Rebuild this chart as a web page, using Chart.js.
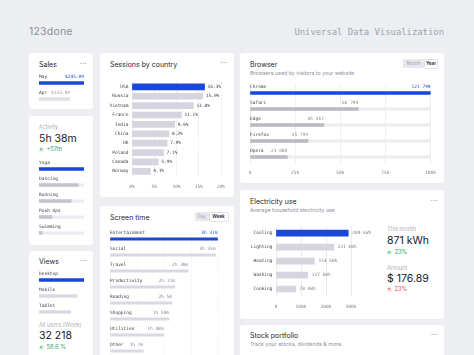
<!DOCTYPE html>
<html><head><meta charset="utf-8">
<script src="https://cdn.jsdelivr.net/npm/chart.js@4"></script>
<style>
html,body{margin:0;padding:0;}
body{width:474px;height:355px;overflow:hidden;background:#edeef2;position:relative;font-family:Inter,'Noto Sans',sans-serif;}
.card{position:absolute;background:#fff;border-radius:3px;}
.t{position:absolute;white-space:nowrap;line-height:1;transform:translateY(-50%);}
canvas{position:absolute;}
</style></head><body>
<script>
// ---- data ----
const salesMonths = ['May', 'Apr'];
const salesValues = [245.09, 133.89];
const activityNames = ['Yoga', 'Dancing', 'Running', 'Push Ups', 'Swimming'];
const activityMinutes = [115, 100, 82, 33, 8];
const viewDevices = ['Desktop', 'Mobile', 'Tablet'];
const viewCounts = [12595, 10743, 8880];
const countries = ['USA', 'Russia', 'Vietnam', 'France', 'India', 'China', 'UK', 'Poland', 'Canada', 'Norway'];
const countryShare = [16.3, 15.9, 13.8, 11.1, 9.6, 8.3, 7.9, 7.1, 5.9, 4.1];
const sessionTickLabels = ['0%', '5%', '10%', '15%', '20%'];
const browsers = ['Chrome', 'Safari', 'Edge', 'Firefox', 'Opera'];
const browserVisitors = [121799, 66799, 45567, 35799, 23000];
const browserTickLabels = ['0', '25k', '50k', '75k', '100k'];
const screenApps = ['Entertainment', 'Social', 'Travel', 'Productivity', 'Reading', 'Shopping', 'Utilities', 'Other'];
const screenMinutes = [217, 213, 158, 131, 125, 119, 108, 67];
const electricityUses = ['Cooling', 'Lighting', 'Heating', 'Washing', 'Cooking'];
const electricityKwh = [289, 231, 154, 127, 78];
const electricityTickLabels = ['0', '100k', '200k', '300k'];

// ---- helpers ----
const MONO = "'DejaVu Sans Mono', 'Liberation Mono', monospace";
const BLUE = '#1a48d8';

function card(x, y, w, h) {
  const d = document.createElement('div');
  d.className = 'card';
  d.style.cssText = `left:${x}px;top:${y}px;width:${w}px;height:${h}px;`;
  document.body.appendChild(d);
}
function txt(x, y, s, style, right) {
  const d = document.createElement('div');
  d.className = 't';
  d.textContent = s;
  d.style.cssText = `left:${x}px;top:${y}px;` + (style || '') + (right ? 'transform:translate(-100%,-50%);' : '');
  document.body.appendChild(d);
}
function title(x, y, s) { txt(x, y, s, 'font-size:7px;font-weight:400;color:#1d1f27;'); }
function sub(x, y, s) { txt(x, y, s, 'font-size:5.3px;color:#8d8f9b;'); }
function small(x, y, s) { txt(x, y, s, 'font-size:5.6px;font-weight:300;color:#8d8f9b;'); }
function big(x, y, s) { txt(x, y, s, 'font-size:10.5px;color:#15171f;'); }
function dots(x, y) { txt(x, y, '···', 'font-size:7px;color:#7d7f8a;letter-spacing:0.4px;'); }
function delta(x, y, s, color, bg, up) {
  const ic = document.createElement('div');
  ic.style.cssText = `position:absolute;left:${x}px;top:${y - 2.5}px;width:5px;height:5px;border-radius:50%;background:${bg};`;
  const tri = document.createElement('div');
  tri.style.cssText = `position:absolute;left:1.2px;top:${up ? 1.3 : 1.7}px;width:0;height:0;border-left:1.3px solid transparent;border-right:1.3px solid transparent;${up ? 'border-bottom' : 'border-top'}:2px solid ${color};`;
  ic.appendChild(tri);
  document.body.appendChild(ic);
  txt(x + 7.5, y, s, `font-size:5.8px;color:${color};`);
}
function toggle(x, y, w1, w2, h, a, b) {
  const o = document.createElement('div');
  o.style.cssText = `position:absolute;left:${x}px;top:${y}px;width:${w1 + w2}px;height:${h}px;background:#e7e8ed;border-radius:1.5px;font-size:4.6px;`;
  const l = document.createElement('div');
  l.textContent = a;
  l.style.cssText = `position:absolute;left:0;top:0;width:${w1}px;height:${h}px;line-height:${h}px;text-align:center;color:#a0a2ae;`;
  const r = document.createElement('div');
  r.textContent = b;
  r.style.cssText = `position:absolute;left:${w1}px;top:0;width:${w2 - 1}px;height:${h - 1}px;line-height:${h - 1}px;text-align:center;color:#22242c;font-weight:600;background:#fff;border:0.5px solid #e0e1e7;border-radius:1.5px;`;
  o.appendChild(l); o.appendChild(r);
  document.body.appendChild(o);
}

function rowsPlugin(o) {
  return {
    id: 'rows',
    beforeDatasetsDraw(chart) {
      if (!o.track) return;
      const ctx = chart.ctx, ca = chart.chartArea;
      const meta = chart.getDatasetMeta(0);
      ctx.save();
      ctx.fillStyle = o.track;
      meta.data.forEach(b => ctx.fillRect(ca.left, b.y - b.height / 2, ca.right - ca.left, b.height));
      ctx.restore();
    },
    afterDatasetsDraw(chart) {
      const ctx = chart.ctx, ca = chart.chartArea;
      const meta = chart.getDatasetMeta(0);
      ctx.save();
      ctx.font = `${o.size || 4.5}px ${MONO}`;
      ctx.textBaseline = 'middle';
      meta.data.forEach((b, i) => {
        if (o.names) {
          ctx.textAlign = 'left';
          ctx.fillStyle = o.nameColor || '#3a3c45';
          ctx.fillText(chart.data.labels[i], ca.left, b.y - o.dy);
        }
        if (o.values) {
          ctx.fillStyle = (i === 0 && o.firstColor) ? o.firstColor : (o.valueColor || '#80828d');
          if (o.mode === 'end') {
            ctx.textAlign = 'right';
            ctx.fillText(o.values[i], Math.min(b.x, ca.right), b.y - o.dy);
          } else {
            ctx.textAlign = 'left';
            ctx.fillText(o.values[i], b.x + (o.gap || 3), b.y);
          }
        }
      });
      ctx.restore();
    }
  };
}

function build(spec) {
  const area = spec.area, m = spec.m;
  const W = Math.round(area.w + m.l + m.r), H = Math.round(area.h + m.t + m.b);
  const cv = document.createElement('canvas');
  cv.width = W; cv.height = H;
  cv.style.left = (area.x - m.l) + 'px';
  cv.style.top = (area.y - m.t) + 'px';
  cv.style.width = W + 'px';
  cv.style.height = H + 'px';
  document.body.appendChild(cv);
  const yw = spec.yLabels ? m.l : 0;
  const xh = spec.xTicks ? m.b : 0;
  const xTicks = {
    display: !!spec.xTicks, includeBounds: false, padding: spec.xPad || 6,
    color: '#7a7c87', font: { family: MONO, size: 4.5 }, maxRotation: 0, minRotation: 0, autoSkip: false
  };
  if (spec.step) xTicks.stepSize = spec.step;
  if (spec.count) xTicks.count = spec.count;
  if (spec.tickLabels) { const tl = spec.tickLabels; xTicks.callback = (v, i) => tl[i]; }
  const scales = {
    y: {
      type: 'category', display: !!spec.yLabels,
      grid: { display: false, drawTicks: false }, border: { display: false },
      ticks: { autoSkip: false, padding: spec.yPad || 3, color: '#3a3c45', font: { family: MONO, size: 4.5 } },
      afterFit: s => { s.width = yw; }
    },
    x: {
      type: 'linear', min: 0, max: spec.max, display: !!(spec.xTicks || spec.grid),
      grid: { display: !!spec.grid, drawTicks: false, color: spec.gridColor || '#e6e7ec', lineWidth: 1 },
      border: { display: false, dash: spec.gridDash || [] },
      ticks: xTicks,
      afterFit: s => { s.height = xh; }
    }
  };
  return new Chart(cv, {
    type: 'bar',
    data: {
      labels: spec.labels,
      datasets: [{
        data: spec.data, backgroundColor: spec.colors, barThickness: spec.thickness,
        borderWidth: 0, borderRadius: 0, clip: 0
      }]
    },
    options: {
      indexAxis: 'y', responsive: false, animation: false, devicePixelRatio: 1, events: [],
      layout: { padding: { left: m.l - yw, top: m.t, right: m.r, bottom: m.b - xh } },
      plugins: { legend: { display: false }, tooltip: { enabled: false } },
      scales
    },
    plugins: spec.rows ? [rowsPlugin(spec.rows)] : []
  });
}
const fmtNum = n => String(n).replace(/\B(?=(\d{3})+(?!\d))/g, ' ');
const fmtHM = m => `${Math.floor(m / 60)}h ${m % 60}m`;
const colorsFirst = (n, c) => Array.from({ length: n }, (_, i) => i === 0 ? BLUE : c);

// ---- header ----
txt(29, 32, '123done', 'font-size:10.5px;color:#8b8e9b;letter-spacing:0.2px;');
txt(444, 32, 'Universal Data Visualization', `font-family:${MONO};font-size:8.9px;color:#a0a2ae;`, true);

// ---- cards ----
card(29, 53, 64, 56);
card(29, 116, 64, 129);
card(29, 251, 64, 110);
card(100, 53, 134, 144);
card(100, 206, 134, 160);
card(240, 53, 204, 130);
card(240, 190, 204, 129);
card(240, 325, 204, 40);

// Sales
title(39, 64, 'Sales'); dots(80, 62.5);
build({
  area: { x: 39, y: 75, w: 45, h: 32 }, m: { l: 2, t: 10, r: 2, b: 2 },
  labels: salesMonths, data: salesValues, colors: [BLUE, '#dfe0e6'], thickness: 3, max: 194,
  rows: { names: true, dy: 6, values: salesValues.map(v => '$' + v.toFixed(2)), mode: 'end', firstColor: BLUE, valueColor: '#9a9ca6' }
});

// Activity
small(39, 128, 'Activity');
big(39, 139, '5h 38m');
delta(39, 149, '+57m', '#34a55f', '#d6f1df', true);
build({
  area: { x: 39, y: 161, w: 45, h: 80 }, m: { l: 2, t: 10, r: 2, b: 2 },
  labels: activityNames, data: activityMinutes, colors: colorsFirst(5, '#c2c3cd'), thickness: 3, max: 115,
  rows: { names: true, dy: 6.5, track: '#ebecf1' }
});

// Views
title(39, 261, 'Views'); dots(80, 259.5);
build({
  area: { x: 39, y: 272, w: 45, h: 48 }, m: { l: 2, t: 10, r: 2, b: 2 },
  labels: viewDevices, data: viewCounts, colors: colorsFirst(3, '#dadbe2'), thickness: 3, max: 12595,
  rows: { names: true, dy: 6 }
});
small(39, 325.7, 'All users (Week)');
big(39, 335.7, '32 218');
delta(39, 347.3, '58.6 %', '#34a55f', '#d6f1df', true);

// Sessions by country
title(110, 64, 'Sessions by country'); dots(220.5, 62);
build({
  area: { x: 132, y: 80, w: 89, h: 96 }, m: { l: 32, t: 4, r: 16, b: 16 },
  labels: countries, data: countryShare, colors: colorsFirst(10, '#d4d5de'), thickness: 6, max: 20,
  yLabels: true, yPad: 3.5, xTicks: true, xPad: 8, step: 5, tickLabels: sessionTickLabels,
  grid: true, gridDash: [1, 1.5], gridColor: '#dcdde3',
  rows: { names: false, values: countryShare.map(v => v.toFixed(1) + '%'), mode: 'after', gap: 3, valueColor: '#3e4049' }
});

// Screen time
title(110, 216.5, 'Screen time');
toggle(195, 212, 13.5, 19, 9, 'Day', 'Week');
build({
  area: { x: 110, y: 231, w: 108, h: 128 }, m: { l: 2, t: 10, r: 6, b: 2 },
  labels: screenApps, data: screenMinutes, colors: colorsFirst(8, '#d8d9e1'), thickness: 2.5, max: 218,
  grid: true, count: 5, gridDash: [1, 1.5], gridColor: '#eeeff2',
  rows: { names: true, dy: 6, values: screenMinutes.map(fmtHM), mode: 'end', firstColor: BLUE, valueColor: '#8a8c96' }
});

// Browser
title(250, 63.5, 'Browser');
sub(250, 73.5, 'Browsers used by visitors to your website');
toggle(403, 58.5, 21, 13, 9, 'Month', 'Year');
build({
  area: { x: 250, y: 85, w: 185, h: 80 }, m: { l: 8, t: 10, r: 6, b: 14 },
  labels: browsers, data: browserVisitors, colors: colorsFirst(5, '#b9bac4'), thickness: 3, max: 111400,
  xTicks: true, xPad: 5, step: 25000, tickLabels: browserTickLabels, grid: true, gridColor: '#eeeff2',
  rows: { names: true, dy: 6.3, track: '#ebebf0', values: browserVisitors.map(fmtNum), mode: 'end', firstColor: BLUE, valueColor: '#8a8c96' }
});

// Electricity use
title(250, 201, 'Electricity use'); dots(430.5, 199.5);
sub(250, 210.5, 'Average household electricity use');
build({
  area: { x: 276, y: 224, w: 75, h: 72 }, m: { l: 36, t: 4, r: 30, b: 16 },
  labels: electricityUses, data: electricityKwh, colors: colorsFirst(5, '#d4d5de'), thickness: 6, max: 300,
  yLabels: true, yPad: 3.5, xTicks: true, xPad: 8, step: 100, tickLabels: electricityTickLabels,
  grid: true, gridColor: '#ececf0',
  rows: { names: false, values: electricityKwh.map(v => v + ' kWh'), mode: 'after', gap: 4, valueColor: '#80828d' }
});
small(387, 229.7, 'This month');
big(387, 240.7, '871 kWh');
delta(387, 252, '23%', '#34a55f', '#d6f1df', true);
small(387, 269.3, 'Amount');
big(387, 278.7, '$ 176.89');
delta(387, 289.3, '23%', '#e0525a', '#fbdcde', false);

// Stock portfolio
title(250, 334.5, 'Stock portfolio'); dots(431, 333.5);
sub(250, 344.7, 'Track your stocks, dividends & more.');
</script>
</body></html>
